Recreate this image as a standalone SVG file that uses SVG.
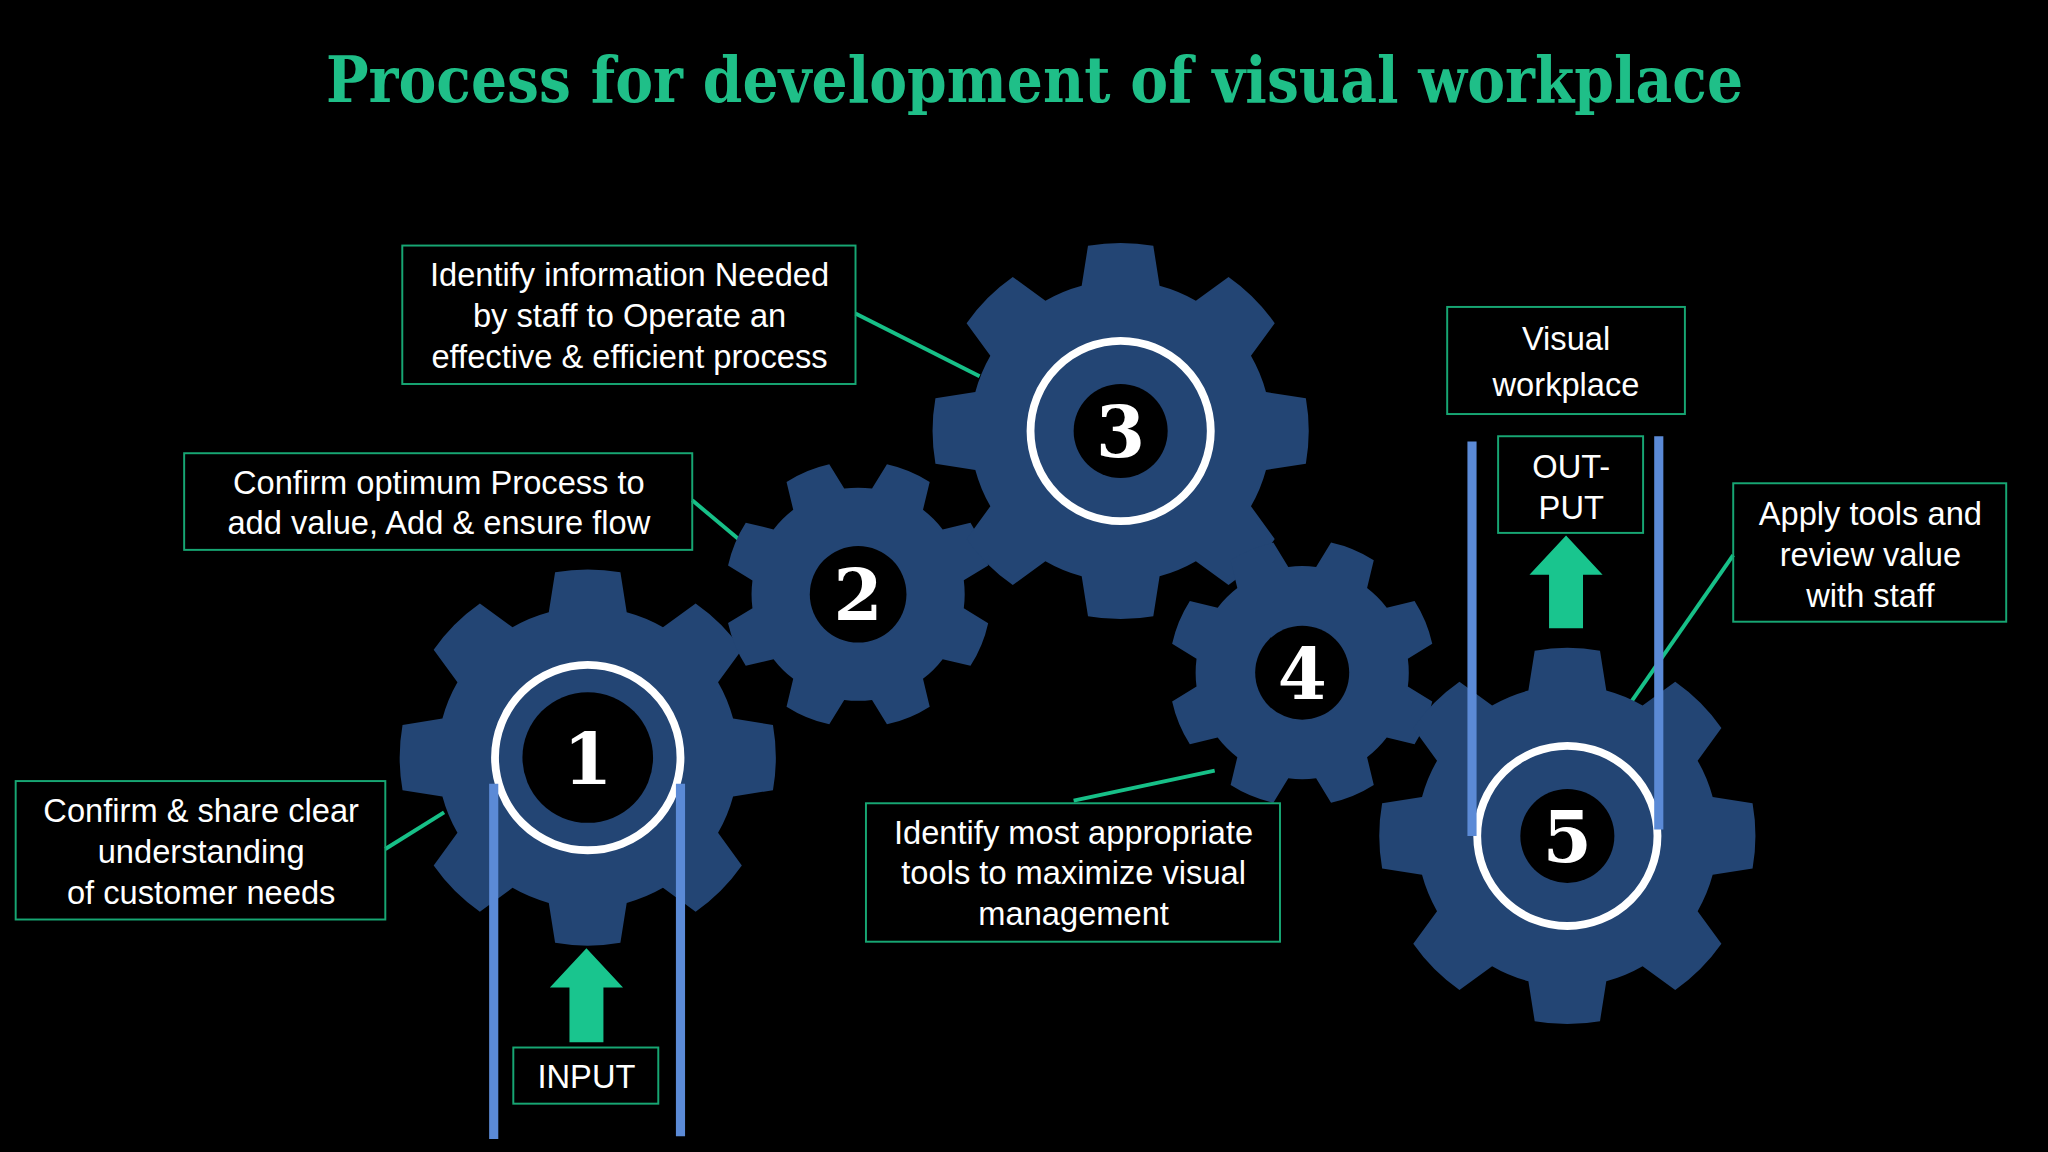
<svg xmlns="http://www.w3.org/2000/svg" width="2048" height="1152" viewBox="0 0 2048 1152">
<defs>
<style>
.gear{fill:#234574}
.ring{fill:none;stroke:#fff;stroke-width:6}
.hub{fill:#000}
.num{font-family:"DejaVu Serif",serif;font-weight:bold;fill:#fff;text-anchor:middle}
.box{fill:none;stroke:#17a673;stroke-width:1.5}
.t{font-family:"Liberation Sans",Arial,sans-serif;font-size:25px;fill:#fff;text-anchor:middle}
.con{stroke:#17c088;stroke-width:3}
.bl{stroke:#5b8ad6;stroke-width:7}
.arr{fill:#19c58e}
</style>
<path id="g" d="M77.27,-20.71 L98.48,-17.36 A100,100 0 0 1 98.48,17.36 L77.27,20.71 A80,80 0 0 1 69.28,40 L81.92,57.36 A100,100 0 0 1 57.36,81.92 L40,69.28 A80,80 0 0 1 20.71,77.27 L17.36,98.48 A100,100 0 0 1 -17.36,98.48 L-20.71,77.27 A80,80 0 0 1 -40,69.28 L-57.36,81.92 A100,100 0 0 1 -81.92,57.36 L-69.28,40 A80,80 0 0 1 -77.27,20.71 L-98.48,17.36 A100,100 0 0 1 -98.48,-17.36 L-77.27,-20.71 A80,80 0 0 1 -69.28,-40 L-81.92,-57.36 A100,100 0 0 1 -57.36,-81.92 L-40,-69.28 A80,80 0 0 1 -20.71,-77.27 L-17.36,-98.48 A100,100 0 0 1 17.36,-98.48 L20.71,-77.27 A80,80 0 0 1 40,-69.28 L57.36,-81.92 A100,100 0 0 1 81.92,-57.36 L69.28,-40 A80,80 0 0 1 77.27,-20.71 Z"/>
</defs>
<rect width="2048" height="1152" fill="#000"/>
<g transform="scale(1.30612)">
<text x="792" y="78" font-family="DejaVu Serif,serif" font-weight="bold" font-size="48" fill="#1fbf88" text-anchor="middle" textLength="1085" lengthAdjust="spacingAndGlyphs">Process for development of visual workplace</text>

<g id="connectors">
<line class="con" x1="295" y1="650" x2="340" y2="622"/>
<line class="con" x1="530" y1="383" x2="580" y2="425"/>
<line class="con" x1="655" y1="240" x2="750" y2="288"/>
<line class="con" x1="822" y1="613" x2="930" y2="590"/>
<line class="con" x1="1245" y1="543" x2="1327" y2="425"/>
</g>

<g id="gear1"><use href="#g" class="gear" transform="translate(450,580) scale(1.44)"/>
<circle class="hub" cx="450" cy="580" r="50"/><circle class="ring" cx="450" cy="580" r="71" stroke-width="8"/>
<text class="num" x="450" y="600" font-size="54">1</text></g>
<g id="gear2"><use href="#g" class="gear" transform="translate(657,455) scale(1.02) rotate(22.5)"/>
<circle class="hub" cx="657" cy="455" r="37"/><text class="num" x="657" y="475" font-size="54">2</text></g>
<g id="gear3"><use href="#g" class="gear" transform="translate(858,330) scale(1.44)"/>
<circle class="hub" cx="858" cy="330" r="36"/><circle class="ring" cx="858" cy="330" r="69"/>
<text class="num" x="858" y="350" font-size="54">3</text></g>
<g id="gear4"><use href="#g" class="gear" transform="translate(997,515) scale(1.02) rotate(22.5)"/>
<circle class="hub" cx="997" cy="515" r="36"/><text class="num" x="997" y="535" font-size="54">4</text></g>
<g id="gear5"><use href="#g" class="gear" transform="translate(1200,640) scale(1.44)"/>
<circle class="hub" cx="1200" cy="640" r="36"/><circle class="ring" cx="1200" cy="640" r="69"/>
<text class="num" x="1200" y="660" font-size="54">5</text></g>

<g id="io">
<line class="bl" x1="378" y1="600" x2="378" y2="872"/>
<line class="bl" x1="521" y1="600" x2="521" y2="870"/>
<line class="bl" x1="1127" y1="338" x2="1127" y2="640"/>
<line class="bl" x1="1270" y1="334" x2="1270" y2="635"/>
<polygon class="arr" points="449,726 477,756 462,756 462,798 436,798 436,756 421,756"/>
<polygon class="arr" points="1199,410 1227,440 1212,440 1212,481 1186,481 1186,440 1171,440"/>
</g>

<g id="box1"><rect class="box" x="12" y="598" width="283" height="106"/>
<text class="t" x="154" y="629">Confirm &amp; share clear</text><text class="t" x="154" y="661">understanding</text><text class="t" x="154" y="692">of customer needs</text></g>
<g id="box2"><rect class="box" x="141" y="347" width="389" height="74"/>
<text class="t" x="336" y="378">Confirm optimum Process to</text><text class="t" x="336" y="409">add value, Add &amp; ensure flow</text></g>
<g id="box3"><rect class="box" x="308" y="188" width="347" height="106"/>
<text class="t" x="482" y="219">Identify information Needed</text><text class="t" x="482" y="250">by staff to Operate an</text><text class="t" x="482" y="282">effective &amp; efficient process</text></g>
<g id="box4"><rect class="box" x="663" y="615" width="317" height="106"/>
<text class="t" x="822" y="646">Identify most appropriate</text><text class="t" x="822" y="677">tools to maximize visual</text><text class="t" x="822" y="708">management</text></g>
<g id="box5"><rect class="box" x="1108" y="235" width="182" height="82"/>
<text class="t" x="1199" y="268" font-size="28">Visual</text><text class="t" x="1199" y="303" font-size="28">workplace</text></g>
<g id="box6"><rect class="box" x="1147" y="334" width="111" height="74"/>
<text class="t" x="1203" y="366">OUT-</text><text class="t" x="1203" y="397">PUT</text></g>
<g id="box7"><rect class="box" x="1327" y="370" width="209" height="106"/>
<text class="t" x="1432" y="402">Apply tools and</text><text class="t" x="1432" y="433">review value</text><text class="t" x="1432" y="465">with staff</text></g>
<g id="box8"><rect class="box" x="393" y="802" width="111" height="43"/>
<text class="t" x="449" y="833">INPUT</text></g>
</g>
</svg>
